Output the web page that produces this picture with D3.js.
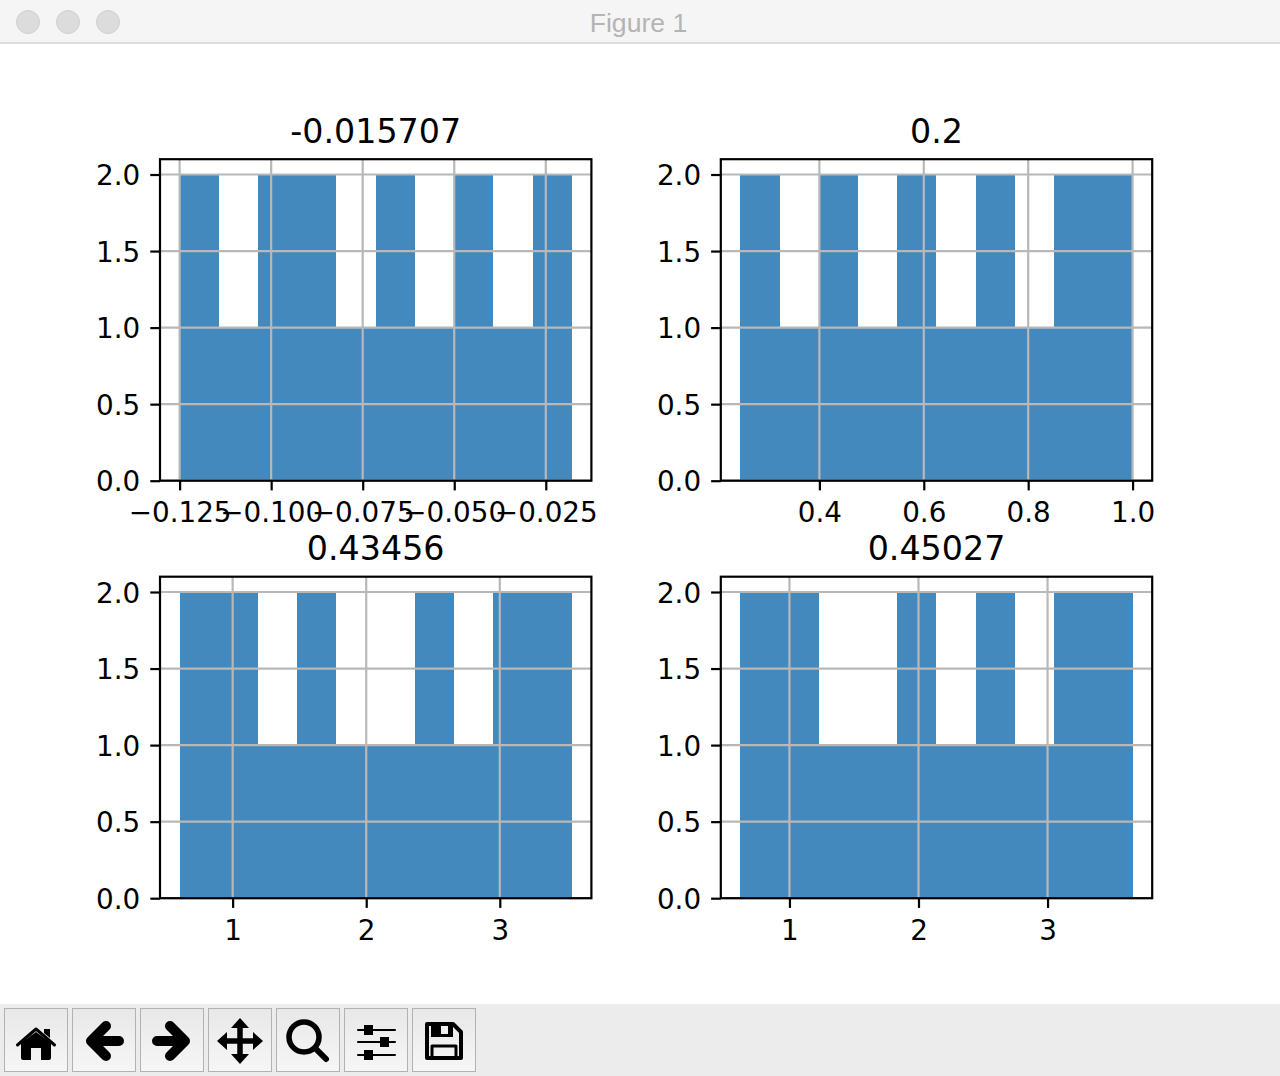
<!DOCTYPE html>
<html>
<head>
<meta charset="utf-8">
<title>Figure 1</title>
<script src="https://cdn.jsdelivr.net/npm/d3@7"></script>
<style>
    html, body { margin: 0; padding: 0; background: #fff; }
    svg { display: block; }
    text { font-family: "DejaVu Sans", sans-serif; fill: #000; }
</style>
</head>
<body>
<svg id="fig" width="1280" height="1076"></svg>
<script>
// histogram counts per bin, one array per panel
const titles = ['-0.015707', '0.2', '0.43456', '0.45027'];
const counts1 = [2, 1, 2, 2, 1, 2, 1, 2, 1, 2];
const counts2 = [2, 1, 2, 1, 2, 1, 2, 1, 2, 2];
const counts3 = [2, 2, 1, 2, 1, 1, 2, 1, 2, 2];
const counts4 = [2, 2, 1, 1, 2, 1, 2, 1, 2, 2];

// data range of each panel
const extent1 = [-0.125, -0.0179];
const extent2 = [0.2487, 1.0];
const extent3 = [0.603, 3.539];
const extent4 = [0.62, 3.659];

const xTicks1 = [-0.125, -0.1, -0.075, -0.05, -0.025];
const xTicks2 = [0.4, 0.6, 0.8, 1.0];
const xTicks3 = [1, 2, 3];
const xTicks4 = [1, 2, 3];
const yTicks = [0, 0.5, 1, 1.5, 2];

const svg = d3.select('#fig');
const barColor = '#4389bd';
const gridColor = '#b8b8b8';
const lw = 2.2;
const tickLen = 9.7;

const fmt1 = d => d3.format('.3f')(d).replace('-', '\u2212');
const fmt2 = d => d3.format('.1f')(d);
const fmt3 = d => d3.format('d')(d);

const panels = [
    { title: titles[0], counts: counts1, extent: extent1, ticks: xTicks1, fmt: fmt1, left: 160, top: 159.2 },
    { title: titles[1], counts: counts2, extent: extent2, ticks: xTicks2, fmt: fmt2, left: 720.8, top: 159.2 },
    { title: titles[2], counts: counts3, extent: extent3, ticks: xTicks3, fmt: fmt3, left: 160, top: 576.7 },
    { title: titles[3], counts: counts4, extent: extent4, ticks: xTicks4, fmt: fmt3, left: 720.8, top: 576.7 }
];
const w = 431.4;
const h = 321.5;

function drawPanel(p) {
    const [lo, hi] = p.extent;
    const margin = (hi - lo) * 0.05;
    const x = d3.scaleLinear().domain([lo - margin, hi + margin]).range([0, w]);
    const y = d3.scaleLinear().domain([0, 2.1]).range([h, 0]);
    const binW = (hi - lo) / p.counts.length;

    const g = svg.append('g').attr('transform', `translate(${p.left},${p.top})`);

    // bars
    g.selectAll('rect.bar')
        .data(p.counts)
        .join('rect')
        .attr('class', 'bar')
        .attr('x', (d, i) => x(lo + i * binW))
        .attr('width', (d, i) => x(lo + (i + 1) * binW) - x(lo + i * binW))
        .attr('y', d => y(d))
        .attr('height', d => h - y(d))
        .attr('fill', barColor)
        .attr('shape-rendering', 'crispEdges');

    // grid sits above the bars
    g.selectAll('line.gx')
        .data(p.ticks)
        .join('line')
        .attr('class', 'gx')
        .attr('x1', d => x(d)).attr('x2', d => x(d))
        .attr('y1', 0).attr('y2', h)
        .attr('stroke', gridColor).attr('stroke-width', lw);
    g.selectAll('line.gy')
        .data(yTicks)
        .join('line')
        .attr('class', 'gy')
        .attr('x1', 0).attr('x2', w)
        .attr('y1', d => y(d)).attr('y2', d => y(d))
        .attr('stroke', gridColor).attr('stroke-width', lw);

    // axes
    const xAxis = d3.axisBottom(x).tickValues(p.ticks).tickFormat(p.fmt)
        .tickSize(tickLen).tickPadding(12).tickSizeOuter(0);
    const yAxis = d3.axisLeft(y).tickValues(yTicks).tickFormat(fmt2)
        .tickSize(tickLen).tickPadding(10).tickSizeOuter(0);
    const gx = g.append('g').attr('transform', `translate(0,${h})`).call(xAxis);
    const gy = g.append('g').call(yAxis);
    [gx, gy].forEach(a => {
        a.select('.domain').remove();
        a.selectAll('line').attr('stroke', '#000').attr('stroke-width', lw);
        a.selectAll('text')
            .attr('fill', '#000')
            .style('font-family', '"DejaVu Sans", sans-serif')
            .style('font-size', '27.8px');
    });
    gy.selectAll('text').attr('dy', '0.37em');

    // spines
    g.append('rect')
        .attr('width', w).attr('height', h)
        .attr('fill', 'none').attr('stroke', '#000').attr('stroke-width', lw);

    g.append('text')
        .attr('x', w / 2).attr('y', -16.5)
        .attr('text-anchor', 'middle')
        .style('font-size', '33.3px')
        .text(p.title);
}

// window chrome
function drawTitleBar() {
    svg.append('rect').attr('x', 0).attr('y', 0).attr('width', 1280).attr('height', 43).attr('fill', '#f5f5f5');
    svg.append('line').attr('x1', 0).attr('x2', 1280).attr('y1', 43).attr('y2', 43)
        .attr('stroke', '#d2d2d2').attr('stroke-width', 1.5);
    svg.selectAll('circle.light')
        .data([28, 68, 108])
        .join('circle')
        .attr('class', 'light')
        .attr('cx', d => d).attr('cy', 22).attr('r', 11.5)
        .attr('fill', '#dcdcdc').attr('stroke', '#d0d0d0').attr('stroke-width', 1);
    svg.append('text')
        .attr('x', 638.5).attr('y', 32)
        .attr('text-anchor', 'middle')
        .style('font-family', '"Liberation Sans", sans-serif')
        .style('font-size', '26.6px')
        .style('fill', '#b4b4b4')
        .text('Figure 1');
}

function drawToolbar() {
    const defs = svg.append('defs');
    const grad = defs.append('linearGradient').attr('id', 'btn')
        .attr('x1', 0).attr('x2', 0).attr('y1', 0).attr('y2', 1);
    grad.append('stop').attr('offset', 0).attr('stop-color', '#e8e8e8');
    grad.append('stop').attr('offset', 1).attr('stop-color', '#f6f6f6');

    svg.append('rect').attr('x', 0).attr('y', 1004).attr('width', 1280).attr('height', 72).attr('fill', '#ececec');
    svg.selectAll('rect.btn')
        .data([4.5, 72.5, 140.5, 208.5, 276.5, 344.5, 412.5])
        .join('rect')
        .attr('class', 'btn')
        .attr('x', d => d).attr('y', 1008.5)
        .attr('width', 63).attr('height', 63)
        .attr('fill', 'url(#btn)').attr('stroke', '#b2b2b2').attr('stroke-width', 1);

    const stroke = (d, sw) => svg.append('path').attr('d', d).attr('fill', 'none').attr('stroke', '#000')
        .attr('stroke-width', sw).attr('stroke-linecap', 'round').attr('stroke-linejoin', 'round');
    const fill = (d, c = '#000') => svg.append('path').attr('d', d).attr('fill', c);

    // home
    fill('M21 1043 L36 1032 L51 1043 V1058 Q51 1060 49 1060 H41 V1048 H31 V1060 H23 Q21 1060 21 1058 Z');
    stroke('M17.5 1045 L36 1029 L54.5 1045', 3);
    fill('M44 1029 H50 V1038 L44 1033 Z');
    // back
    stroke('M106 1026 L91 1041 L106 1056 M91 1041 H119', 10);
    // forward
    stroke('M170 1026 L185 1041 L170 1056 M185 1041 H157', 10);
    // move
    stroke('M240 1024 V1058 M223 1041 H257', 5.5);
    fill('M240 1018 L249 1028 H231 Z M240 1064 L249 1054 H231 Z M217 1041 L227 1032 V1050 Z M263 1041 L253 1032 V1050 Z');
    // zoom
    svg.append('circle').attr('cx', 304).attr('cy', 1037).attr('r', 15)
        .attr('fill', 'none').attr('stroke', '#000').attr('stroke-width', 5.5);
    stroke('M315 1048 L326 1059', 6);
    // subplots
    stroke('M358 1030 H395 M358 1042 H395 M358 1055 H395', 2);
    fill('M364 1025 H373 V1035 H364 Z M380 1037 H389 V1047 H380 Z M364 1050 H373 V1060 H364 Z');
    // save
    stroke('M427 1024 H453 L461 1032 V1058 H427 Z', 4);
    fill('M431 1024 H453 V1037 H431 Z');
    fill('M441 1026 H448 V1034 H441 Z', '#f0f0f0');
    stroke('M432 1058 V1046 H456 V1058', 3);
}

drawTitleBar();
panels.forEach(drawPanel);
drawToolbar();
</script>
</body>
</html>
